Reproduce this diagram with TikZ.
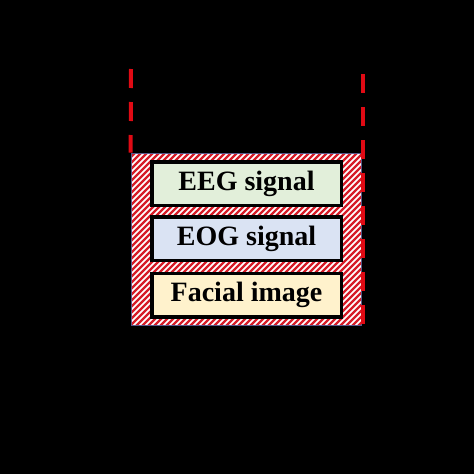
\documentclass[tikz,border=0pt]{standalone}
\usepackage{fontspec}
\setmainfont{Liberation Serif}
\definecolor{hatchred}{RGB}{214,28,40}
\definecolor{dashred}{RGB}{224,10,20}
\definecolor{rimblue}{RGB}{90,90,140}
\definecolor{eegfill}{RGB}{226,239,218}
\definecolor{eogfill}{RGB}{218,227,243}
\definecolor{facefill}{RGB}{255,242,204}
\tikzset{
  sigbox/.style={draw=black, line width=3.5pt, minimum width=189.5pt, minimum height=43.5pt,
    inner sep=0pt, font=\fontsize{28}{30}\selectfont\bfseries, text=black},
  groupbox/.style={draw=rimblue, line width=0.8pt, minimum width=230pt, minimum height=172pt, inner sep=0pt},
  reddash/.style={draw=dashred, line width=4pt, dash pattern=on 19pt off 14pt}
}
\begin{document}
\begin{tikzpicture}[x=1pt,y=-1pt]
\useasboundingbox[fill=black] (0,0) rectangle (474,474);
\node[groupbox, fill=white] (group) at (246,239) {};
\begin{scope}
  \clip (131,153) rectangle (361,325);
  \foreach \s in {-60,-54,...,380}
    \draw[hatchred, line width=2.3pt] (\s,330) -- ++(182,-182);
\end{scope}
\node[groupbox] at (246,239) {};
\node[sigbox, fill=eegfill] (eeg) at (246.5,183.5) {EEG signal};
\node[sigbox, fill=eogfill] (eog) at (246.5,238.5) {EOG signal};
\node[sigbox, fill=facefill] (face) at (246.5,295) {Facial image};
\coordinate (ltop) at (131,69);
\coordinate (lbot) at (group.north west);
\coordinate (rtop) at (363,74);
\coordinate (rbot) at (363,325);
\draw[reddash] (ltop) -- (lbot);
\draw[reddash] (rtop) -- (rbot);
\end{tikzpicture}
\end{document}
